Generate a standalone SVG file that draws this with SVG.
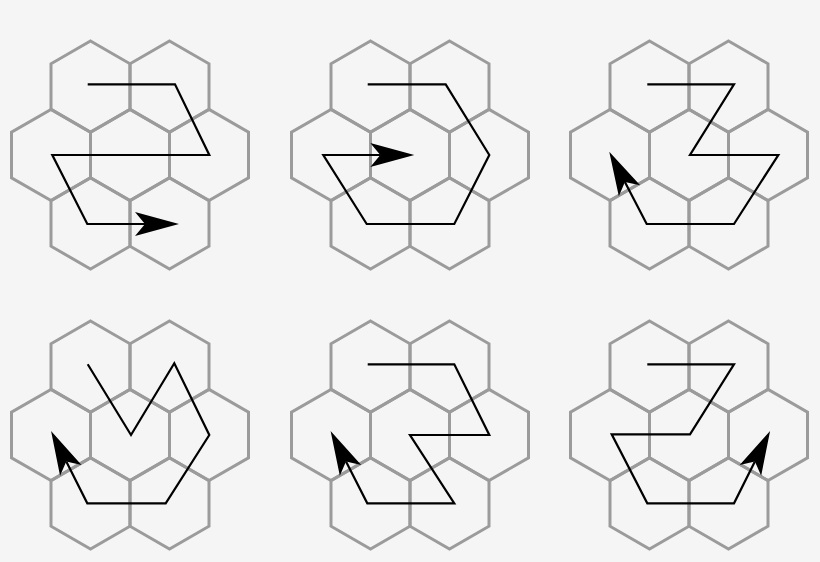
<svg xmlns="http://www.w3.org/2000/svg" xmlns:xlink="http://www.w3.org/1999/xlink" width="820" height="562" viewBox="0 0 820 562">
<style>
.hex{fill:none;stroke:#9b9b9b;stroke-width:3;stroke-linejoin:miter}
.path{fill:none;stroke:#000;stroke-width:2.2;stroke-linejoin:miter}
</style>
<defs>
<polygon id="h" class="hex" points="0,-45.6 39.5,-22.8 39.5,22.8 0,45.6 -39.5,22.8 -39.5,-22.8"/>
<g id="flower">
<use xlink:href="#h" href="#h" x="0" y="0"/>
<use xlink:href="#h" href="#h" x="-39.5" y="-68.4"/>
<use xlink:href="#h" href="#h" x="39.5" y="-68.4"/>
<use xlink:href="#h" href="#h" x="-79" y="0"/>
<use xlink:href="#h" href="#h" x="79" y="0"/>
<use xlink:href="#h" href="#h" x="-39.5" y="68.4"/>
<use xlink:href="#h" href="#h" x="39.5" y="68.4"/>
</g>
<marker id="arr" markerUnits="userSpaceOnUse" orient="auto" refX="0" refY="0" markerWidth="1" markerHeight="1" overflow="visible" style="overflow:visible">
<path d="M34,0 L-10,-12 L0,0 L-10,12 Z" fill="#000"/>
</marker>
</defs>
<rect width="820" height="562" fill="#f5f5f5"/>
<g id="grids">
<use id="grid1" xlink:href="#flower" href="#flower" x="130" y="155"/>
<use id="grid2" xlink:href="#flower" href="#flower" x="410" y="155"/>
<use id="grid3" xlink:href="#flower" href="#flower" x="689" y="155"/>
<use id="grid4" xlink:href="#flower" href="#flower" x="130" y="435"/>
<use id="grid5" xlink:href="#flower" href="#flower" x="410" y="435"/>
<use id="grid6" xlink:href="#flower" href="#flower" x="689" y="435"/>
</g>
<g id="connectors">
<polyline class="path" marker-end="url(#arr)" points="87.7,84.3 175,84.3 209.3,155 52.3,155 87.3,224 145,224"/>
<polyline class="path" marker-end="url(#arr)" points="367.7,84.3 445.7,84.3 489.3,155 454.3,224 366.7,224 323.3,155 380.3,155"/>
<polyline class="path" marker-end="url(#arr)" points="647.3,84.3 734,84.3 690,155 778.3,155 734,224 646.7,224 624.9,181.9"/>
<polyline class="path" marker-end="url(#arr)" points="87.7,364.3 131,435 174.3,363.3 209.3,435 165.7,503.3 87.3,503.3 66.3,461.4"/>
<polyline class="path" marker-end="url(#arr)" points="367.7,364.3 454.3,364.3 489.3,435 410,435 454.3,503.3 367.3,503.3 346,461.4"/>
<polyline class="path" marker-end="url(#arr)" points="647.3,364.3 734,364.3 690,434.3 611.7,434.3 647.3,503.3 734,503.3 754.9,461.4"/>
</g>
</svg>
